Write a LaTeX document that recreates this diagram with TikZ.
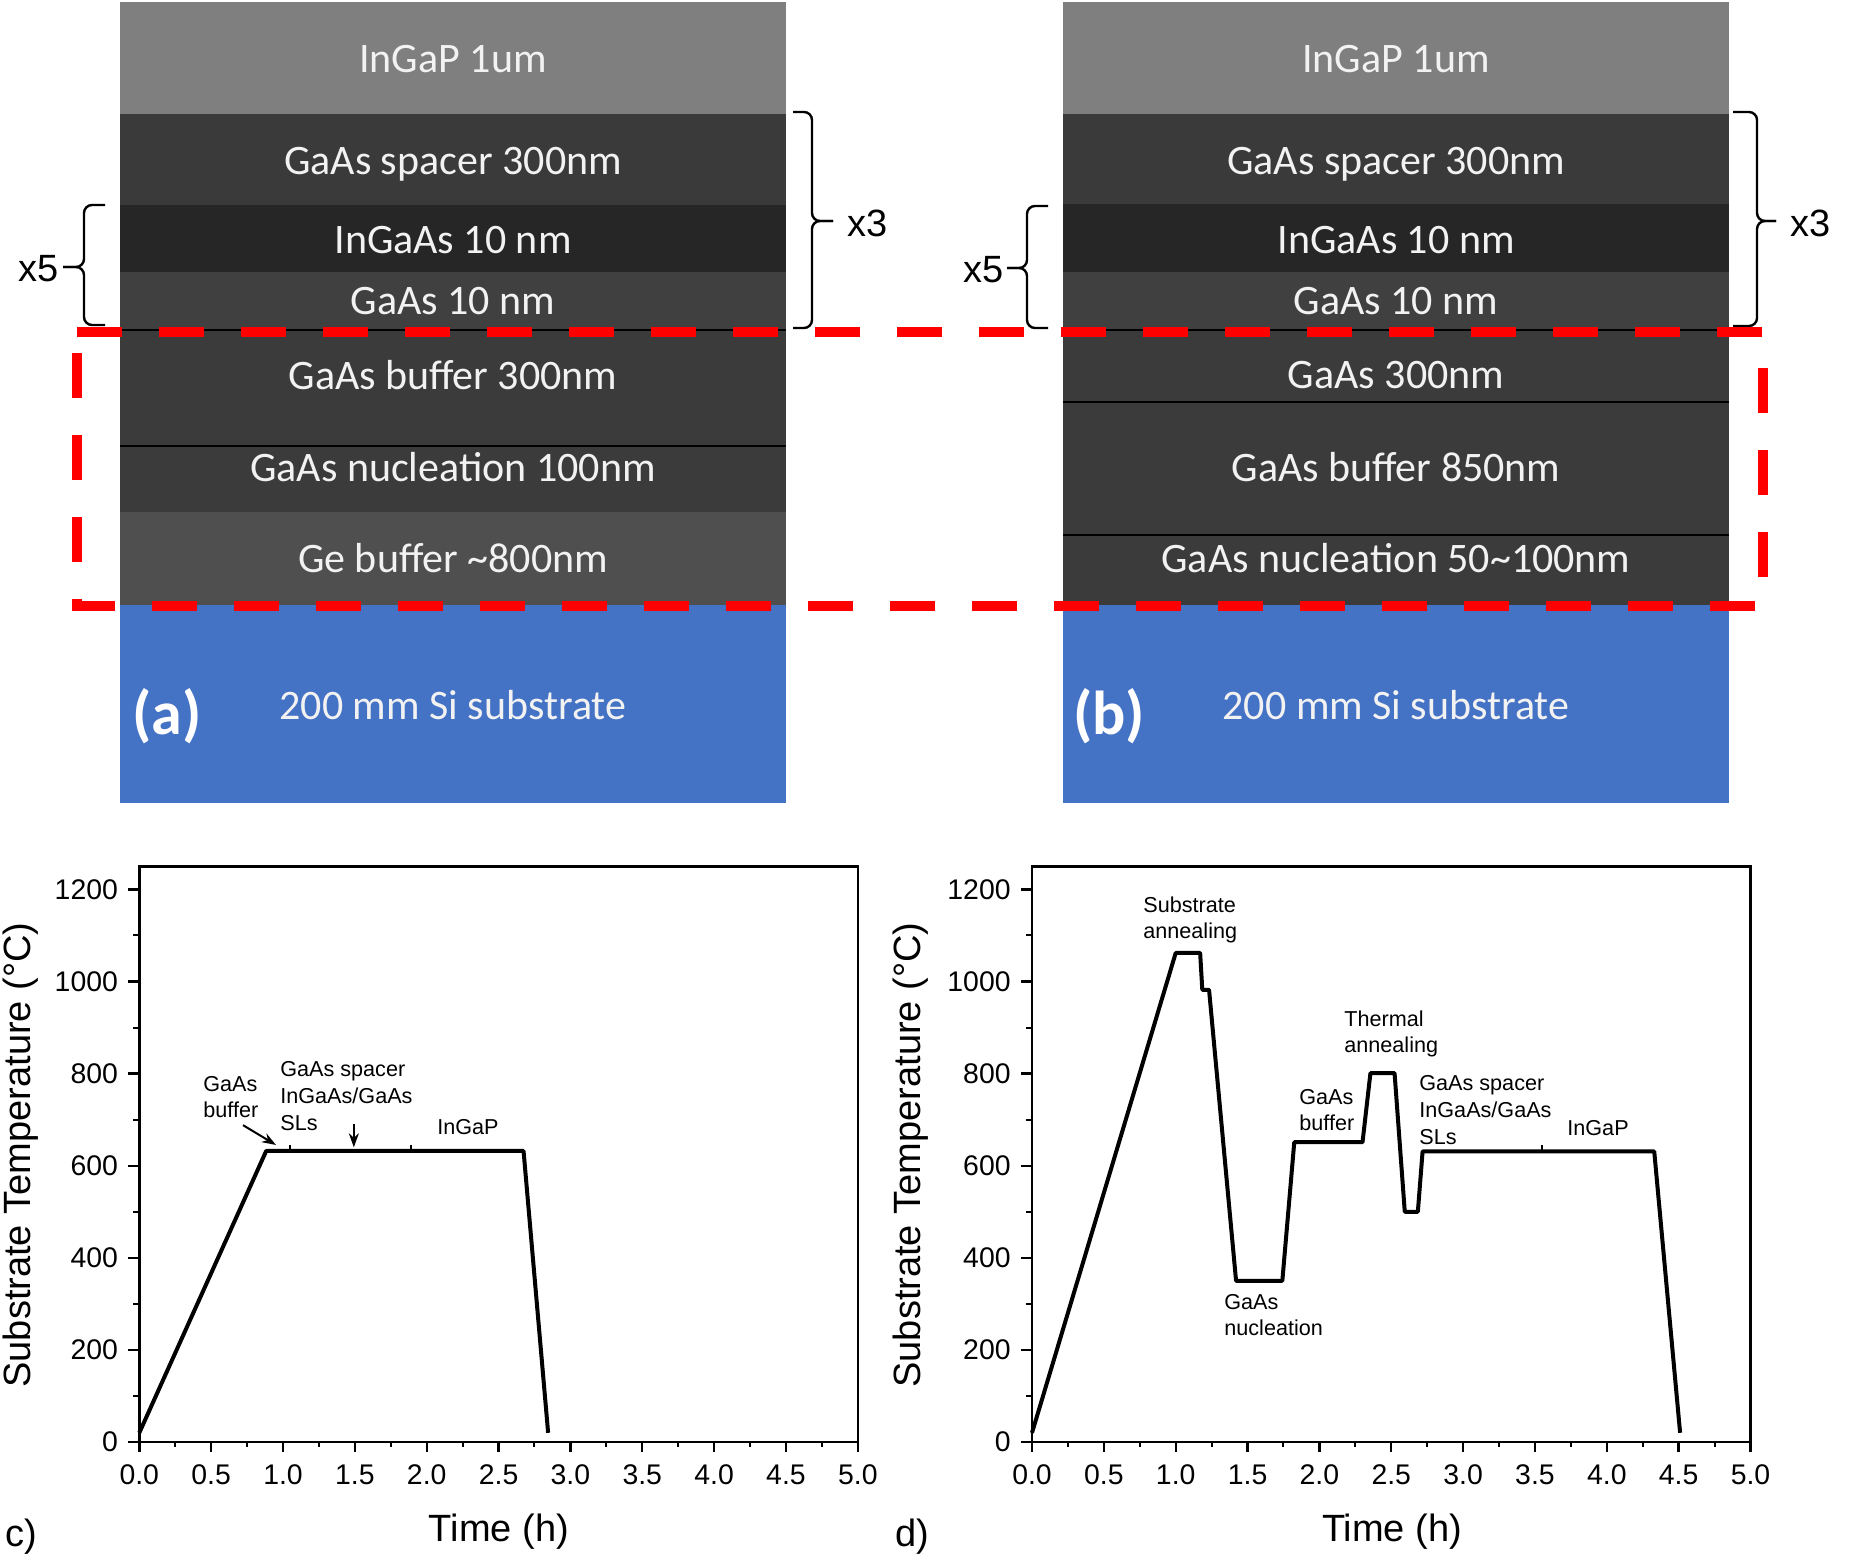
\documentclass[tikz,border=0pt]{standalone}
\usepackage{fontspec}
\setmainfont{Liberation Sans}
\newfontfamily\calibri{Carlito}
\usetikzlibrary{arrows.meta}

\definecolor{ingap}{RGB}{127,127,127}
\definecolor{spacer}{RGB}{58,58,58}
\definecolor{ingaas}{RGB}{38,38,38}
\definecolor{gaasthin}{RGB}{64,64,64}
\definecolor{buffer}{RGB}{59,59,59}
\definecolor{gebuf}{RGB}{79,79,79}
\definecolor{sisub}{RGB}{68,114,196}
\definecolor{dashred}{RGB}{255,0,0}
\definecolor{layerwhite}{RGB}{242,242,242}

\tikzset{
  layertext/.style={text=layerwhite, font=\calibri\fontsize{21}{24}\selectfont},
  panellabel/.style={text=white, font=\calibri\bfseries\fontsize{31}{34}\selectfont},
  repeatlabel/.style={font=\fontsize{19}{22}\selectfont, inner sep=0pt},
  stackbrace/.style={line width=1.2pt, rounded corners=4pt},
  ticklabel/.style={font=\fontsize{14.2}{17}\selectfont, inner sep=0pt},
  axistitle/.style={font=\fontsize{19}{22}\selectfont},
  annot/.style={font=\fontsize{10.8}{13.35}\selectfont, align=left, anchor=west, inner sep=0pt},
  profile/.style={line width=2pt, line join=round},
}

\begin{document}
\begin{tikzpicture}[x=0.5pt, y=-0.5pt]
        \useasboundingbox (0,0) rectangle (1850,1561);

        % stack (a)
        \fill[ingap] (120,2) rectangle (786,114);
        \fill[spacer] (120,114) rectangle (786,205);
        \fill[ingaas] (120,205) rectangle (786,272);
        \fill[gaasthin] (120,272) rectangle (786,330);
        \fill[buffer] (120,330) rectangle (786,512);
        \fill[gebuf] (120,512) rectangle (786,605);
        \fill[sisub] (120,605) rectangle (786,803);
        \draw[black, line width=1pt] (120,330) -- (786,330);
        \draw[black, line width=1pt] (120,446) -- (786,446);

        \node[layertext] (ingapA) at (453,59) {InGaP 1um};
        \node[layertext] (spacerA) at (453,164) {GaAs spacer 300nm};
        \node[layertext] (ingaasA) at (453,240) {InGaAs 10 nm};
        \node[layertext] (gaasA) at (453,301) {GaAs 10 nm};
        \node[layertext] (bufferA) at (453,375) {GaAs buffer 300nm};
        \node[layertext] (nuclA) at (453,467) {GaAs nucleation 100nm};
        \node[layertext] (geA) at (453,558) {Ge buffer \textasciitilde800nm};
        \node[layertext] (siA) at (453,705) {200 mm Si substrate};
        \node[panellabel] (labelA) at (167,716) {(a)};

        % stack (b)
        \fill[ingap] (1063,2) rectangle (1729,114);
        \fill[spacer] (1063,114) rectangle (1729,204);
        \fill[ingaas] (1063,204) rectangle (1729,272);
        \fill[gaasthin] (1063,272) rectangle (1729,330);
        \fill[buffer] (1063,330) rectangle (1729,605);
        \fill[sisub] (1063,605) rectangle (1729,803);
        \draw[black, line width=1pt] (1063,330) -- (1729,330);
        \draw[black, line width=1pt] (1063,402) -- (1729,402);
        \draw[black, line width=1pt] (1063,535) -- (1729,535);

        \node[layertext] (ingapB) at (1396,59) {InGaP 1um};
        \node[layertext] (spacerB) at (1396,164) {GaAs spacer 300nm};
        \node[layertext] (ingaasB) at (1396,240) {InGaAs 10 nm};
        \node[layertext] (gaasB) at (1396,301) {GaAs 10 nm};
        \node[layertext] (gaasthickB) at (1396,375) {GaAs 300nm};
        \node[layertext] (bufferB) at (1396,467) {GaAs buffer 850nm};
        \node[layertext] (nuclB) at (1396,558) {GaAs nucleation 50\textasciitilde100nm};
        \node[layertext] (siB) at (1396,705) {200 mm Si substrate};
        \node[panellabel] (labelB) at (1109,716) {(b)};

        % repeat braces
        \draw[stackbrace] (105,205) -- (84,205) -- (84,267) -- (63,267);
        \draw[stackbrace] (105,325) -- (84,325) -- (84,267) -- (63,267);
        \node[repeatlabel] (xfiveA) at (39,269) {x5};
        \draw[stackbrace] (793,112) -- (812,112) -- (812,221) -- (833,221);
        \draw[stackbrace] (793,328) -- (812,328) -- (812,221) -- (833,221);
        \node[repeatlabel] (xthreeA) at (868,223) {x3};
        \draw[stackbrace] (1048,206) -- (1027,206) -- (1027,268) -- (1007,268);
        \draw[stackbrace] (1048,328) -- (1027,328) -- (1027,268) -- (1007,268);
        \node[repeatlabel] (xfiveB) at (984,270) {x5};
        \draw[stackbrace] (1733,112) -- (1757,112) -- (1757,221) -- (1776,221);
        \draw[stackbrace] (1733,326) -- (1757,326) -- (1757,221) -- (1776,221);
        \node[repeatlabel] (xthreeB) at (1811,223) {x3};

        \draw[dashred, line width=5pt, dash pattern=on 22.5pt off 18.5pt]
            (77,332) -- (1763,332) -- (1763,606) -- (77,606) -- cycle;

        % plot c)
        \begin{scope}[xshift=69.65pt, yshift=-721pt, x=71.85pt, y=0.23025pt]
            \draw[line width=1.2pt] (0,0) rectangle (5,1250);
            \foreach \T in {0,200,...,1200} {
                \draw[line width=1.2pt] (0,\T) -- ++(-5.5pt,0);
                \node[ticklabel, anchor=east, xshift=-10.5pt] (cy\T) at (0,\T) {\T};
            }
            \foreach \T in {100,300,...,1100}
                \draw[line width=1pt] (0,\T) -- ++(-3pt,0);
            \foreach \t/\lab [count=\i] in {0/0.0,0.5/0.5,1/1.0,1.5/1.5,2/2.0,2.5/2.5,3/3.0,3.5/3.5,4/4.0,4.5/4.5,5/5.0} {
                \draw[line width=1.2pt] (\t,0) -- ++(0,-5pt);
                \node[ticklabel, yshift=-16.5pt] (cx\i) at (\t,0) {\lab};
            }
            \foreach \t in {0.25,0.75,...,4.75}
                \draw[line width=1pt] (\t,0) -- ++(0,-2.5pt);

            \draw[profile] (0,20) -- (0.883,632) -- (2.674,632) -- (2.845,20);
            \draw[line width=1pt] (1.05,632) -- ++(0,3pt);
            \draw[line width=1pt] (1.89,632) -- ++(0,3pt);

            \coordinate (cbufstart) at (0.722,688);
            \coordinate (cbufend) at (0.951,645);
            \coordinate (cslstart) at (1.493,690);
            \coordinate (cslend) at (1.493,640);
            \draw[line width=1pt, -{Stealth[length=7pt, width=5pt]}] (cbufstart) -- (cbufend);
            \draw[line width=1pt, -{Stealth[length=7pt, width=5pt]}] (cslstart) -- (cslend);
        \end{scope}

        \node[annot] (cbuffer) at (203,1097) {GaAs\\buffer};
        \node[annot] (cspacer) at (280,1096) {GaAs spacer\\InGaAs/GaAs\\SLs};
        \node[annot] (cingap) at (437,1127) {InGaP};
        \node[axistitle, rotate=90] (cytitle) at (21,1155) {Substrate Temperature (°C)};
        \node[axistitle] (cxtitle) at (499,1532) {Time (h)};
        \node[axistitle] (cpanel) at (21,1537) {c)};

        % plot d)
        \begin{scope}[xshift=516pt, yshift=-721pt, x=71.85pt, y=0.23025pt]
            \draw[line width=1.2pt] (0,0) rectangle (5,1250);
            \foreach \T in {0,200,...,1200} {
                \draw[line width=1.2pt] (0,\T) -- ++(-5.5pt,0);
                \node[ticklabel, anchor=east, xshift=-10.5pt] (dy\T) at (0,\T) {\T};
            }
            \foreach \T in {100,300,...,1100}
                \draw[line width=1pt] (0,\T) -- ++(-3pt,0);
            \foreach \t/\lab [count=\i] in {0/0.0,0.5/0.5,1/1.0,1.5/1.5,2/2.0,2.5/2.5,3/3.0,3.5/3.5,4/4.0,4.5/4.5,5/5.0} {
                \draw[line width=1.2pt] (\t,0) -- ++(0,-5pt);
                \node[ticklabel, yshift=-16.5pt] (dx\i) at (\t,0) {\lab};
            }
            \foreach \t in {0.25,0.75,...,4.75}
                \draw[line width=1pt] (\t,0) -- ++(0,-2.5pt);

            \draw[profile] (0,20) -- (1.0,1062) -- (1.17,1062) -- (1.185,982) -- (1.232,982)
                -- (1.42,350) -- (1.742,350) -- (1.825,651) -- (2.30,651) -- (2.355,801)
                -- (2.523,801) -- (2.594,500) -- (2.685,500) -- (2.718,631) -- (4.33,631) -- (4.51,20);
            \draw[line width=1pt] (3.55,631) -- ++(0,3pt);
        \end{scope}

        \node[annot] (dsubstrate) at (1143,920) {Substrate\\annealing};
        \node[annot] (dthermal) at (1344,1034) {Thermal\\annealing};
        \node[annot] (dbuffer) at (1299,1110) {GaAs\\buffer};
        \node[annot] (dspacer) at (1419,1110) {GaAs spacer\\InGaAs/GaAs\\SLs};
        \node[annot] (dingap) at (1567,1128) {InGaP};
        \node[annot] (dnucl) at (1224,1315) {GaAs\\nucleation};
        \node[axistitle, rotate=90] (dytitle) at (911,1155) {Substrate Temperature (°C)};
        \node[axistitle] (dxtitle) at (1392,1532) {Time (h)};
        \node[axistitle] (dpanel) at (912,1537) {d)};
    \end{tikzpicture}
\end{document}
